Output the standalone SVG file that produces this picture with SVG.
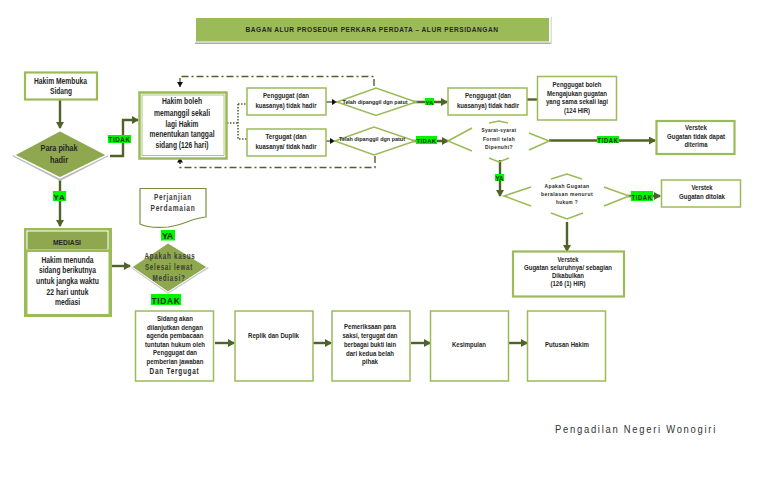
<svg xmlns="http://www.w3.org/2000/svg" width="768" height="503" viewBox="0 0 768 503">
<style>
text{font-family:"Liberation Sans",Arial,sans-serif;font-weight:700;fill:#262626;text-anchor:middle}
.t7{font-size:7.5px}.t8{font-size:8.5px}.t9{font-size:9.5px}
.t6{font-size:6px}
.s{font-size:6.2px;letter-spacing:.5px}
.p{font-size:8.5px;letter-spacing:1px;fill:#3c3c3c}
.box{fill:#fff;stroke:#9bbb59;stroke-width:1.5}
.box2{fill:#fff;stroke:#9bbb59;stroke-width:2.2}
.lab{fill:#00f500}
.ll{font-size:8px;letter-spacing:.8px;fill:#17300a}
.c{fill:none;stroke:#4f6228;stroke-width:2.4}
.c1{fill:none;stroke:#1a1a1a;stroke-width:1}
.d{fill:none;stroke:#4f6228;stroke-width:1.4;stroke-dasharray:7 3 2 3}
.o{fill:none;stroke:#4f6228;stroke-width:1.5;stroke-dasharray:1.5 1.5}
.dia{fill:#fff;stroke:#9bbb59;stroke-width:1.6}
.gap{fill:none;stroke:#9bbb59;stroke-width:1.6}
</style>
<defs>
<marker id="a" markerUnits="userSpaceOnUse" markerWidth="8" markerHeight="8" refX="6" refY="4" orient="auto"><path d="M0 0L7 4L0 8Z" fill="#4f6228"/></marker>
<marker id="b" markerUnits="userSpaceOnUse" markerWidth="6" markerHeight="6" refX="5" refY="3" orient="auto"><path d="M0 0L5 3L0 6Z" fill="#111"/></marker>
</defs>

<g id="connectors">
<path class="c" d="M60 100V128" marker-end="url(#a)"/>
<path class="c" d="M110 156H123V120H138" marker-end="url(#a)"/>
<path class="c" d="M60 178V226" marker-end="url(#a)"/>
<path class="c" d="M111 266H130" marker-end="url(#a)"/>
<path class="o" d="M227 123H238M238 104H247M238 104V139H247"/>
<path class="d" d="M374 86V76.500H180V81"/>
<path class="c1" d="M180 80V87" marker-end="url(#b)"/>
<path class="d" d="M375 156V167.500H180V163"/>
<path class="c1" d="M180 164V157.500" marker-end="url(#b)"/>
<path class="c1" d="M326 102H337" marker-end="url(#b)"/>
<path class="c1" d="M324 141H335" marker-end="url(#b)"/>
<path class="c" d="M410 102H447" marker-end="url(#a)"/>
<path class="c" d="M410 141H448" marker-end="url(#a)"/>
<path class="c" d="M527 99.500H537"/>
<path class="c" d="M549 140.500H655" marker-end="url(#a)"/>
<path class="c" d="M500 160V196" marker-end="url(#a)"/>
<path class="c" d="M627 196H660" marker-end="url(#a)"/>
<path class="c" d="M567 222V251" marker-end="url(#a)"/>
<path class="c" d="M215 343H234" marker-end="url(#a)"/>
<path class="c" d="M313 343H331" marker-end="url(#a)"/>
<path class="c" d="M411 343H430" marker-end="url(#a)"/>
<path class="c" d="M508 343H527" marker-end="url(#a)"/>
</g>

<g id="title">
<rect x="195" y="42.500" width="357" height="1.500" fill="#aaa"/>
<rect x="550.500" y="17" width="1.500" height="27" fill="#ddd"/>
<rect x="196" y="18" width="353" height="23.500" fill="#9bbb59"/>
<text class="t7" x="372" y="31.500" style="letter-spacing:.6px" textLength="253" lengthAdjust="spacingAndGlyphs">BAGAN ALUR PROSEDUR PERKARA PERDATA – ALUR PERSIDANGAN</text>
</g>

<g id="n-buka"><rect class="box2" x="25" y="72.500" width="72" height="27"/>
<text class="t8" x="60.500" y="83.500" textLength="53" lengthAdjust="spacingAndGlyphs">Hakim Membuka</text><text class="t8" x="61" y="93.500" textLength="22" lengthAdjust="spacingAndGlyphs">Sidang</text></g>

<g id="n-hadir">
<path d="M12 156L60 131L109 156L60 181Z" fill="#bbb"/>
<path d="M14 155L60 130.500L107 155L60 178Z" fill="#8fa850" stroke="#fff" stroke-width="1.500"/>
<text class="t9" x="59" y="151" textLength="37" lengthAdjust="spacingAndGlyphs">Para pihak</text><text class="t9" x="59" y="162.500" textLength="18" lengthAdjust="spacingAndGlyphs">hadir</text></g>

<g id="n-boleh"><rect x="139.500" y="92.500" width="87" height="66" fill="#fff" stroke="#9bbb59" stroke-width="2.500"/>
<rect x="142" y="95" width="82" height="60.500" fill="none" stroke="#9bbb59" stroke-width=".8"/>
<text class="t8" x="182" y="104" textLength="40" lengthAdjust="spacingAndGlyphs">Hakim boleh</text><text class="t8" x="182" y="116" textLength="56" lengthAdjust="spacingAndGlyphs">memanggil sekali</text><text class="t8" x="182" y="127" textLength="33" lengthAdjust="spacingAndGlyphs">lagi Hakim</text><text class="t8" x="182" y="137" textLength="65" lengthAdjust="spacingAndGlyphs">menentukan tanggal</text><text class="t8" x="182" y="148" textLength="53" lengthAdjust="spacingAndGlyphs">sidang (126 hari)</text></g>

<g id="n-p1"><rect class="box" x="247" y="88" width="79" height="27"/>
<text class="t7" x="286" y="97.500" textLength="46" lengthAdjust="spacingAndGlyphs">Penggugat (dan</text><text class="t7" x="286" y="107.500" textLength="61" lengthAdjust="spacingAndGlyphs">kuasanya) tidak hadir</text></g>
<g id="n-t1"><rect class="box" x="247" y="129" width="79" height="27"/>
<text class="t7" x="286" y="138.500" textLength="41" lengthAdjust="spacingAndGlyphs">Tergugat (dan</text><text class="t7" x="286" y="148.500" textLength="61" lengthAdjust="spacingAndGlyphs">kuasanya/ tidak hadir</text></g>

<g id="n-d1"><path class="dia" d="M337 102L376 88L416 102L376 115.500Z"/>
<text class="t6" x="375" y="104" textLength="65" lengthAdjust="spacingAndGlyphs">Telah dipanggil  dgn patut</text></g>
<g id="n-d2"><path class="dia" d="M335 141L374 127L415 141L374 155Z"/>
<text class="t6" x="372" y="141" textLength="66" lengthAdjust="spacingAndGlyphs">Telah dipanggil  dgn patut</text></g>

<g id="n-p2"><rect class="box" x="448" y="88" width="79" height="27"/>
<text class="t7" x="488" y="97.500" textLength="46" lengthAdjust="spacingAndGlyphs">Penggugat (dan</text><text class="t7" x="488" y="107.500" textLength="62" lengthAdjust="spacingAndGlyphs">kuasanya) tidak hadir</text></g>
<g id="n-boleh2"><rect class="box" x="537.500" y="76.500" width="79" height="43.500"/>
<text class="t7" x="577" y="87" textLength="49" lengthAdjust="spacingAndGlyphs">Penggugat boleh</text><text class="t7" x="577" y="95.500" textLength="60" lengthAdjust="spacingAndGlyphs">Mengajukan gugatan</text><text class="t7" x="577" y="104" textLength="62" lengthAdjust="spacingAndGlyphs">yang sama sekali lagi</text><text class="t7" x="577" y="112.500" textLength="26" lengthAdjust="spacingAndGlyphs">(124 HIR)</text></g>

<g id="n-syarat">
<path class="gap" d="M472 128L448 141L472 151M489 123L499 121L508 123M489 158L499 162L509 158M529 133L549 141L529 150"/>
<text class="s" x="499" y="132" textLength="35" lengthAdjust="spacingAndGlyphs">Syarat-syarat</text><text class="s" x="499" y="140.500" textLength="32" lengthAdjust="spacingAndGlyphs">Formil telah</text><text class="s" x="499" y="149" textLength="28" lengthAdjust="spacingAndGlyphs">Dipenuhi?</text></g>

<g id="n-alasan">
<path class="gap" d="M531 187L504 196L531 206M551 179L567 174L582 179M551 213L567 219L583 213M604 187L629 196L604 206"/>
<text class="s" x="567" y="187.500" textLength="45" lengthAdjust="spacingAndGlyphs">Apakah Gugatan</text><text class="s" x="567" y="195.500" textLength="52" lengthAdjust="spacingAndGlyphs">beralasan menurut</text><text class="s" x="567" y="204" textLength="22" lengthAdjust="spacingAndGlyphs">hukum ?</text></g>

<g id="n-v1"><rect class="box2" x="656.500" y="121" width="78" height="33"/>
<text class="t7" x="696" y="130" textLength="22" lengthAdjust="spacingAndGlyphs">Verstek</text><text class="t7" x="696" y="139" textLength="58" lengthAdjust="spacingAndGlyphs">Gugatan tidak dapat</text><text class="t7" x="696" y="147" textLength="23" lengthAdjust="spacingAndGlyphs">diterima</text></g>
<g id="n-v2"><rect class="box" x="661.500" y="180" width="79" height="27"/>
<text class="t7" x="702" y="189.500" textLength="21" lengthAdjust="spacingAndGlyphs">Verstek</text><text class="t7" x="702" y="198.500" textLength="46" lengthAdjust="spacingAndGlyphs">Gugatan ditolak</text></g>
<g id="n-v3"><rect class="box2" x="513" y="251.500" width="111" height="45"/>
<text class="t7" x="568" y="261.500" textLength="21" lengthAdjust="spacingAndGlyphs">Verstek</text><text class="t7" x="568" y="270" textLength="88" lengthAdjust="spacingAndGlyphs">Gugatan seluruhnya/ sebagian</text><text class="t7" x="568" y="278" textLength="32" lengthAdjust="spacingAndGlyphs">Dikabulkan</text><text class="t7" x="568" y="286" textLength="35" lengthAdjust="spacingAndGlyphs">(126 (1) HIR)</text></g>

<g id="n-mediasi">
<rect x="24" y="228" width="88" height="89" fill="#9bbb59"/>
<rect x="27" y="231" width="81" height="19" fill="#8fa850" stroke="#fff" stroke-width="1"/>
<rect x="24.500" y="249.500" width="87" height="67" fill="#9bbb59"/>
<rect x="27.500" y="252" width="81" height="62" fill="#fff"/>
<text class="t7" x="67" y="245" textLength="28" lengthAdjust="spacingAndGlyphs">MEDIASI</text>
<text class="t8" x="67.500" y="262.500" textLength="52" lengthAdjust="spacingAndGlyphs">Hakim menunda</text><text class="t8" x="67.500" y="273" textLength="57" lengthAdjust="spacingAndGlyphs">sidang berikutnya</text><text class="t8" x="67.500" y="284" textLength="63" lengthAdjust="spacingAndGlyphs">untuk jangka waktu</text><text class="t8" x="67.500" y="295" textLength="42" lengthAdjust="spacingAndGlyphs">22 hari untuk</text><text class="t8" x="67.500" y="305" textLength="25" lengthAdjust="spacingAndGlyphs">mediasi</text></g>

<g id="n-perjanjian"><path d="M140 188.500H206V217C192 218 184 225 168 227C156 228 146 227 140 224Z" fill="#fff" stroke="#76923c" stroke-width="1.200"/>
<text class="p" x="173" y="200" textLength="38" lengthAdjust="spacingAndGlyphs">Perjanjian</text><text class="p" x="173" y="211" textLength="45" lengthAdjust="spacingAndGlyphs">Perdamaian</text></g>

<g id="n-kasus"><path d="M131 268L168 243L209 268L168 294Z" fill="#ccc"/><path d="M132 267L168 243L207 267L168 292Z" fill="#8fa850" stroke="#fff"/>
<text class="p" x="170" y="259" textLength="51" lengthAdjust="spacingAndGlyphs">Apakah kasus</text><text class="p" x="169" y="270" textLength="48" lengthAdjust="spacingAndGlyphs">Selesai lewat</text><text class="p" x="169" y="280.500" textLength="33" lengthAdjust="spacingAndGlyphs">Mediasi?</text></g>

<g id="n-sidang"><rect class="box" x="135.500" y="311" width="78" height="70"/>
<text class="t7" x="175" y="321" textLength="36" lengthAdjust="spacingAndGlyphs">Sidang akan</text><text class="t7" x="175" y="329.500" textLength="56" lengthAdjust="spacingAndGlyphs">dilanjutkan dengan</text><text class="t7" x="175" y="338" textLength="57" lengthAdjust="spacingAndGlyphs">agenda pembacaan</text><text class="t7" x="175" y="346.500" textLength="60" lengthAdjust="spacingAndGlyphs">tuntutan hukum oleh</text><text class="t7" x="175" y="355" textLength="44" lengthAdjust="spacingAndGlyphs">Penggugat dan</text><text class="t7" x="175" y="363.500" textLength="57" lengthAdjust="spacingAndGlyphs">pemberian jawaban</text>
<text class="t8" x="174.500" y="373.500" style="letter-spacing:1px" textLength="50" lengthAdjust="spacingAndGlyphs">Dan Tergugat</text></g>
<g id="n-replik"><rect class="box" x="235" y="311" width="78" height="70"/><text class="t7" x="273.500" y="337.500" textLength="51" lengthAdjust="spacingAndGlyphs">Replik dan Duplik</text></g>
<g id="n-saksi"><rect class="box" x="332" y="311" width="78" height="70"/>
<text class="t7" x="370" y="329" textLength="52" lengthAdjust="spacingAndGlyphs">Pemeriksaan para</text><text class="t7" x="370" y="338" textLength="55" lengthAdjust="spacingAndGlyphs">saksi, tergugat dan</text><text class="t7" x="370" y="347" textLength="52" lengthAdjust="spacingAndGlyphs">berbagai bukti lain</text><text class="t7" x="370" y="356" textLength="48" lengthAdjust="spacingAndGlyphs">dari kedua belah</text><text class="t7" x="370" y="364" textLength="16" lengthAdjust="spacingAndGlyphs">pihak</text></g>
<g id="n-kesimpulan"><rect class="box" x="430.500" y="311" width="78" height="70"/><text class="t7" x="469" y="347" textLength="34" lengthAdjust="spacingAndGlyphs">Kesimpulan</text></g>
<g id="n-putusan"><rect class="box" x="527.500" y="311" width="78" height="70"/><text class="t7" x="567" y="347" textLength="44" lengthAdjust="spacingAndGlyphs">Putusan Hakim</text></g>

<g id="labels">
<rect class="lab" x="108" y="135" width="23" height="8"/><text class="ll" x="119.500" y="142" textLength="22" lengthAdjust="spacingAndGlyphs">TIDAK</text>
<rect class="lab" x="53" y="191" width="13" height="10"/><text class="ll" x="59.500" y="199.500" textLength="12" lengthAdjust="spacing">YA</text>
<rect class="lab" x="161" y="230" width="14" height="10.500"/><text class="ll" x="168" y="239" style="font-size:9px" textLength="12" lengthAdjust="spacing">YA</text>
<rect class="lab" x="151" y="294" width="30" height="11"/><text class="ll" x="166" y="303.500" style="font-size:9.500px" textLength="29" lengthAdjust="spacingAndGlyphs">TIDAK</text>
<rect class="lab" x="425" y="98" width="9" height="7"/><text class="ll" x="429.500" y="104.500" style="font-size:6px;letter-spacing:0" textLength="8" lengthAdjust="spacingAndGlyphs">YA</text>
<rect class="lab" x="416" y="136" width="21" height="8"/><text class="ll" x="426.500" y="142.500" style="font-size:6px;letter-spacing:.4px" textLength="20" lengthAdjust="spacingAndGlyphs">TIDAK</text>
<rect class="lab" x="597" y="136" width="22" height="7"/><text class="ll" x="608" y="142.500" style="font-size:7px" textLength="21" lengthAdjust="spacingAndGlyphs">TIDAK</text>
<rect class="lab" x="495" y="174" width="9" height="7"/><text class="ll" x="499.500" y="180.500" style="font-size:6.500px;letter-spacing:0" textLength="8" lengthAdjust="spacingAndGlyphs">YA</text>
<rect class="lab" x="631" y="191" width="22" height="10"/><text class="ll" x="642" y="199.500" style="font-size:7.500px" textLength="21" lengthAdjust="spacingAndGlyphs">TIDAK</text>
</g>

<text x="636" y="433" style="font-size:11px;font-weight:400;fill:#333;letter-spacing:2px" textLength="162" lengthAdjust="spacingAndGlyphs">Pengadilan Negeri Wonogiri</text>
</svg>
